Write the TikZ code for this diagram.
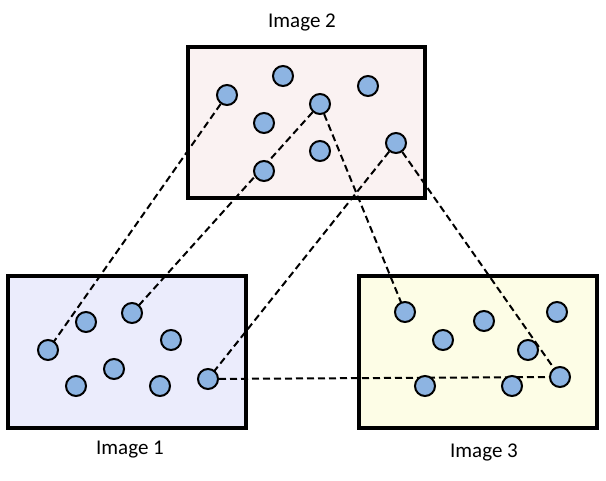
\documentclass[tikz,border=0pt]{standalone}
\usepackage{fontspec}
\setmainfont{Carlito}
\begin{document}
\begin{tikzpicture}[x=1pt,y=-1pt,
  box/.style={draw=black,line width=3.2pt},
  dot/.style={circle,draw=black,line width=2pt,fill=dotblue,minimum size=20pt,inner sep=0pt},
  link/.style={line width=2pt,dash pattern=on 7pt off 4pt},
  lab/.style={font=\fontsize{21}{25}\selectfont}]
\definecolor{dotblue}{HTML}{8DB4E2}
\useasboundingbox (0,0) rectangle (606,481);
\fill[white] (0,0) rectangle (606,481);
\draw[box,fill={rgb,255:red,250;green,242;blue,242}] (188,47) rectangle (425,198);
\draw[box,fill={rgb,255:red,235;green,236;blue,252}] (8,276) rectangle (246,428);
\draw[box,fill={rgb,255:red,253;green,253;blue,230}] (359,276) rectangle (597,428);
\node[lab] (t2) at (302,22) {Image 2};
\node[lab] (t1) at (130,450) {Image 1};
\node[lab] (t3) at (484,452) {Image 3};
\foreach \n/\x/\y in {a1/227/95,a2/283/76,a3/368/86,a4/264/123,a5/320/104,a6/320/151,a7/264/171,a8/396/143}
  \coordinate (\n) at (\x,\y);
\foreach \n/\x/\y in {b1/48/350,b2/86/322,b3/132/313,b4/171/340,b5/114/369,b6/76/386,b7/160/386,b8/208/379}
  \coordinate (\n) at (\x,\y);
\foreach \n/\x/\y in {c1/405/312,c2/443/340,c3/484/321,c4/557/312,c5/528/350,c6/425/386,c7/512/386,c8/560/377}
  \coordinate (\n) at (\x,\y);
\draw[link] (a1) -- (b1);
\draw[link] (a5) -- (b3);
\draw[link] (a5) -- (c1);
\draw[link] (a8) -- (b8);
\draw[link] (a8) -- (c8);
\draw[link] (b8) -- (c8);
\foreach \n in {a1,a2,a3,a4,a5,a6,a7,a8,b1,b2,b3,b4,b5,b6,b7,b8,c1,c2,c3,c4,c5,c6,c7,c8}
  \node[dot] (d\n) at (\n) {};
\end{tikzpicture}
\end{document}
